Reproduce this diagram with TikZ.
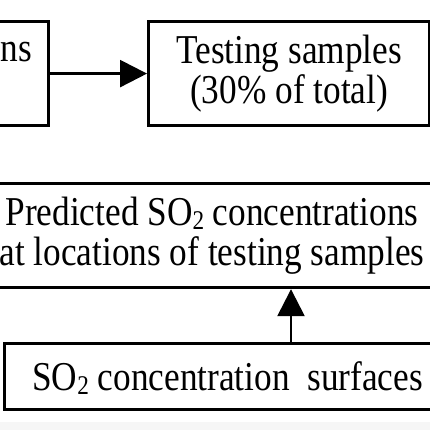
\documentclass[tikz,border=0pt]{standalone}
\usepackage{fontspec}
\setmainfont[FakeStretch=0.86]{Liberation Serif}
\usetikzlibrary{arrows.meta}
\newcommand{\subtwo}{\raisebox{-0.1em}[\height][0pt]{\fontsize{27}{27}\selectfont 2}}
\begin{document}
\begin{tikzpicture}[x=1pt,y=-1pt,
  txt/.style={font=\fontsize{41}{40}\selectfont},
  box/.style={draw, line width=3.2pt, rectangle, inner sep=0pt, align=center, txt},
  conn/.style={line width=2.6pt, -{Triangle[length=27pt,width=27pt]}}]
\useasboundingbox (0,0) rectangle (430,430);
\clip (0,0) rectangle (430,430);
\fill[gray!7] (0,422) rectangle (430,430);
% top row
\node[box, minimum width=250pt, minimum height=104pt, anchor=north east] (train) at (50,20) {};
\node[txt, inner sep=0pt, anchor=base east] (trainlbl) at (32,62) {ns};
\node[box, minimum width=281pt, minimum height=104pt, anchor=north west] (test) at (147,20) {Testing samples\\(30\% of total)};
\draw[conn] (train.east) -- (test.west);
% middle
\node[box, minimum width=600pt, minimum height=104pt, anchor=north] (pred) at (212,182) {Predicted SO\subtwo{} concentrations\\at locations of testing samples};
% bottom
\node[box, minimum width=446pt, minimum height=66pt, anchor=north west] (surf) at (3,342) {SO\subtwo{} concentration~ surfaces};
\coordinate (up) at (291,342);
\draw[conn] (up) -- (up |- pred.south);
\end{tikzpicture}
\end{document}
